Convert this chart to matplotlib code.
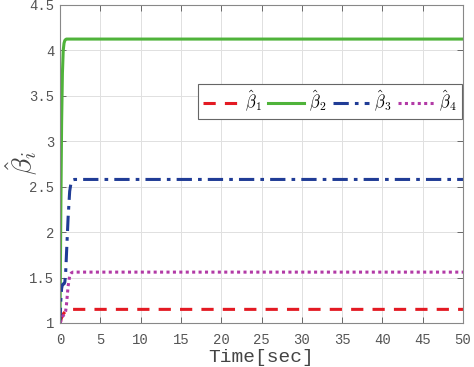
import matplotlib
matplotlib.use("Agg")
import matplotlib.pyplot as plt

t = [0, 0.1, 0.2, 0.3, 0.4, 0.5, 0.6, 0.7, 0.8, 0.9, 1.0, 1.2, 1.4, 1.6, 1.8, 2.0, 3.0, 50]
beta1 = [1.0, 1.03, 1.06, 1.08, 1.10, 1.11, 1.12, 1.13, 1.14, 1.145, 1.15, 1.15, 1.15, 1.15, 1.15, 1.15, 1.15, 1.15]
beta2 = [1.0, 2.2, 3.2, 3.75, 4.0, 4.08, 4.11, 4.12, 4.125, 4.125, 4.125, 4.125, 4.125, 4.125, 4.125, 4.125, 4.125, 4.125]
beta3 = [1.0, 1.25, 1.38, 1.42, 1.43, 1.43, 1.45, 1.55, 1.75, 1.95, 2.15, 2.45, 2.56, 2.575, 2.58, 2.58, 2.58, 2.58]
beta4 = [1.0, 1.02, 1.05, 1.07, 1.08, 1.09, 1.10, 1.13, 1.20, 1.30, 1.40, 1.52, 1.55, 1.56, 1.56, 1.56, 1.56, 1.56]

labels = [r'$\hat{\beta}_1$', r'$\hat{\beta}_2$', r'$\hat{\beta}_3$', r'$\hat{\beta}_4$']
colors = ['#e31a23', '#4fb33a', '#203c96', '#b23aa6']
styles = [(0, (4, 3)), '-', (0, (5, 2, 1.2, 2)), (0, (1, 1.1))]

plt.rcParams['mathtext.fontset'] = 'cm'
fig = plt.figure(figsize=(4.74, 3.67), dpi=100)
ax = fig.add_axes([60/474, 1 - 323/367, 403/474, 318/367])
for y, lab, c, ls in zip([beta1, beta2, beta3, beta4], labels, colors, styles):
    ax.plot(t, y, color=c, linestyle=ls, linewidth=2.2, label=lab)

ax.set_xlim(0, 50)
ax.set_ylim(1, 4.5)
ax.set_xticks(range(0, 51, 5))
ax.set_yticks([1, 1.5, 2, 2.5, 3, 3.5, 4, 4.5])
ax.set_yticklabels(['1', '1.5', '2', '2.5', '3', '3.5', '4', '4.5'])
ax.grid(True, color='#e0e0e0', linewidth=0.7)
ax.set_axisbelow(True)
for lab in ax.get_xticklabels() + ax.get_yticklabels():
    lab.set_family('Liberation Mono')
    lab.set_fontsize(10)
    lab.set_color('#555555')
ax.tick_params(direction='in', length=4, color='#555555', width=0.6)
ax.tick_params(axis='x', pad=7)
ax.tick_params(axis='y', pad=4)
ax.tick_params(top=True, right=True)
for s in ax.spines.values():
    s.set_color('#888888')
ax.set_xlabel('Time[sec]', family='Liberation Mono', fontsize=14, color='#444444', labelpad=2)
fig.text(22/474, 1 - 163/367, r'$\hat{\beta}_i$', fontsize=20, color='#444444',
         rotation=90, ha='center', va='center')
leg = ax.legend(loc='upper left', bbox_to_anchor=(0.343, 0.752), ncol=4, fontsize=12,
                handlelength=2.2, handletextpad=0.3, columnspacing=0.35,
                borderpad=0.3, borderaxespad=0, fancybox=False, framealpha=1,
                edgecolor='#666666')
leg.get_frame().set_linewidth(0.8)
fig.savefig('out.png', dpi=100)
